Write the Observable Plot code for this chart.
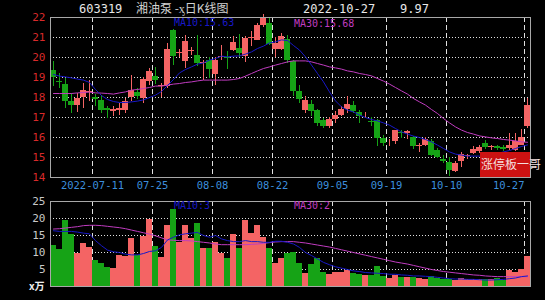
<!DOCTYPE html>
<html><head><meta charset="utf-8">
<script src="https://cdn.jsdelivr.net/npm/d3@7"></script>
<script src="https://cdn.jsdelivr.net/npm/@observablehq/plot@0.6"></script>
<style>
html,body{margin:0;padding:0;background:#000;}
#wrap{position:relative;width:545px;height:300px;background:#000;overflow:hidden;font-family:"DejaVu Sans Mono",monospace;}
.t{position:absolute;white-space:nowrap;line-height:1;}
#topPanel,#volPanel{position:absolute;left:0;}
#topPanel{top:0;} #volPanel{top:195px;}
</style></head><body>
<div id="wrap">
  <div id="topPanel"></div>
  <div id="volPanel"></div>
  <div class="t" style="left:79px;top:3px;font-size:12px;color:#e8e8e8;">603319</div>
  <div class="t" style="left:136px;top:2px;font-size:12px;color:#d0d0d0;font-family:'Noto Sans CJK SC';">湘油泵 -ᶍ日K线图</div>
  <div class="t" style="left:303px;top:3px;font-size:12px;color:#e8e8e8;">2022-10-27</div>
  <div class="t" style="left:400px;top:3px;font-size:12px;color:#e8e8e8;">9.97</div>
  <div class="t" style="left:174px;top:18px;font-size:10px;color:#1818c8;">MA10:15.63</div>
  <div class="t" style="left:294px;top:19px;font-size:10px;color:#c03cc0;">MA30:15.68</div>
  <div class="t" style="left:174px;top:201px;font-size:10px;color:#1818c8;">MA10:3</div>
  <div class="t" style="left:294px;top:201px;font-size:10px;color:#c03cc0;">MA30:2</div>
  <div class="t" style="left:29px;top:281px;font-size:10px;font-weight:bold;color:#f0f0f0;font-family:'Noto Sans CJK SC';">x万</div>
  <div style="position:absolute;left:480px;top:152px;width:50px;height:25px;background:#cc1212;"></div>
  <div class="t" style="left:481px;top:158px;font-size:12px;color:#f4dede;font-family:'Noto Sans CJK SC';">涨停板一哥</div>
</div>
<script>
const tickIdx = [7, 17, 27, 37, 47, 56, 66, 79];
const tickLabels = ["2022-07-11", "07-25", "08-08", "08-22", "09-05", "09-19", "10-10", "10-27"];
const priceTicks = [14, 15, 16, 17, 18, 19, 20, 21, 22];
const volTicks = [5, 10, 15, 20, 25];

const open = [19.33,18.8,18.67,17.78,17.62,18.0,18.28,17.98,17.85,17.45,
  17.3,17.35,17.35,18.0,18.25,17.95,18.8,19.05,18.55,18.57,
  21.37,20.2,19.8,20.3,20.1,19.72,19.85,19.15,20.0,20.0,
  20.35,20.45,20.07,20.98,20.87,21.6,21.7,20.4,20.4,20.88,
  19.78,18.28,17.33,17.67,17.33,16.83,16.53,16.9,17.12,17.4,
  17.62,17.25,17.13,16.8,16.87,15.95,15.68,15.78,16.27,16.2,
  16.0,15.55,15.62,15.78,15.37,14.92,14.73,14.28,14.78,15.05,
  15.2,15.28,15.7,15.52,15.55,15.5,15.45,15.37,15.62,16.53];
const close = [19.0,18.75,17.78,17.62,17.95,18.33,18.3,17.92,17.35,17.35,
  17.38,17.45,17.8,18.35,18.05,18.9,19.3,18.85,18.58,20.42,
  20.07,20.22,20.8,20.35,19.7,19.75,19.4,19.85,20.05,19.95,
  20.75,20.2,20.95,21.0,21.6,22.0,20.65,20.72,21.07,19.85,
  18.28,17.9,17.83,17.28,16.7,16.53,16.9,17.12,17.4,17.67,
  17.32,17.03,17.17,16.77,15.95,15.7,15.72,16.33,16.23,16.28,
  15.53,15.57,15.9,15.12,15.0,14.78,14.37,14.7,15.17,15.1,
  15.4,15.48,15.5,15.55,15.45,15.42,15.62,15.78,16.0,17.6];
const high = [19.78,19.2,18.95,18.2,18.2,18.7,18.87,18.15,18.1,17.55,
  17.55,17.7,17.95,19.1,18.45,19.0,19.45,19.5,18.7,20.7,
  21.4,20.4,21.1,20.5,21.1,19.85,20.0,20.0,20.6,20.3,
  21.05,21.15,21.07,21.3,21.7,22.15,22.0,21.0,21.2,21.1,
  19.87,18.62,18.03,17.87,17.4,16.95,17.0,17.28,17.53,18.03,
  17.78,17.37,17.23,17.0,16.9,16.12,15.9,16.37,16.33,16.37,
  16.07,15.7,16.0,15.9,15.45,15.12,15.0,14.78,15.23,15.17,
  15.53,15.62,15.83,15.62,15.62,15.58,16.22,16.22,16.38,17.97];
const low = [18.53,18.45,17.45,17.2,17.23,17.45,17.78,17.55,17.2,16.95,
  17.05,17.1,17.2,17.8,17.9,17.7,18.6,18.67,18.0,18.45,
  19.62,20.0,19.45,20.1,19.55,18.85,18.95,18.6,19.85,19.4,
  20.3,20.0,19.73,20.53,20.85,21.5,20.6,20.0,20.35,19.7,
  18.03,17.7,17.2,17.03,16.53,16.45,16.45,16.7,17.03,17.2,
  17.2,16.7,17.0,16.53,15.57,15.57,15.57,15.67,15.95,15.9,
  15.4,15.23,15.53,15.03,14.95,14.7,14.03,14.23,14.5,14.9,
  15.17,15.2,15.4,15.37,15.35,15.3,15.35,15.28,15.6,16.45];
const ma10 = [19.15,19.07,19.03,18.98,18.92,18.87,18.75,18.4,18.1,17.9,
  17.8,17.75,17.75,17.78,17.82,17.88,18.0,18.12,18.3,18.6,
  18.9,19.23,19.4,19.53,19.67,19.73,19.87,19.95,20.07,20.03,
  20.07,20.08,20.17,20.28,20.45,20.57,20.73,20.78,20.88,20.85,
  20.6,20.37,20.03,19.62,19.2,18.78,18.28,17.83,17.53,17.37,
  17.28,17.12,17.0,16.9,16.83,16.73,16.62,16.45,16.28,16.17,
  16.07,16.0,15.9,15.78,15.62,15.45,15.28,15.17,15.12,15.07,
  15.07,15.07,15.1,15.15,15.2,15.28,15.35,15.45,15.55,15.63];
const ma30 = [18.2,18.2,18.2,18.2,18.23,18.25,18.27,18.23,18.22,18.2,
  18.17,18.23,18.28,18.37,18.4,18.45,18.5,18.57,18.57,18.62,
  18.67,18.7,18.75,18.78,18.83,18.87,18.87,18.87,18.87,18.87,
  18.9,18.95,19.07,19.2,19.33,19.45,19.53,19.62,19.7,19.78,
  19.83,19.83,19.83,19.78,19.7,19.62,19.53,19.48,19.42,19.33,
  19.28,19.2,19.15,19.08,18.95,18.82,18.67,18.5,18.33,18.17,
  17.95,17.78,17.62,17.4,17.2,16.95,16.73,16.53,16.37,16.25,
  16.17,16.08,16.03,15.98,15.95,15.9,15.87,15.83,15.78,15.76];
const volume = [12.0,10.8,19.4,15.3,9.7,12.7,11.5,7.6,6.8,5.6,
  5.2,9.1,8.8,14.1,9.0,14.7,19.7,11.7,8.6,17.9,
  22.6,13.0,17.9,14.0,18.5,11.1,11.1,12.8,9.7,8.2,
  15.2,11.1,19.4,15.6,18.0,14.4,11.1,6.8,8.2,9.7,
  10.0,6.8,3.8,6.4,8.3,4.1,3.4,4.1,4.1,4.6,
  3.8,3.4,3.1,3.1,5.8,2.9,2.5,3.1,2.7,2.7,
  2.7,2.5,2.2,2.9,2.4,2.1,2.1,1.9,2.5,2.1,
  2.1,2.1,2.1,2.1,2.5,1.9,4.6,4.1,4.9,8.9];
const vma10 = [16.4,16.2,16.2,16.2,16.0,15.7,15.5,13.5,12.0,10.7,
  10.2,10.0,9.5,9.3,9.3,9.7,10.3,10.5,11.5,13.7,
  14.5,15.2,15.5,15.7,15.9,15.0,14.5,15.0,14.0,13.5,
  13.2,13.2,13.5,13.2,13.2,13.0,13.0,13.3,13.3,13.0,
  12.5,11.5,10.0,9.1,8.1,7.1,6.4,5.8,5.4,5.0,
  4.6,4.4,4.1,4.0,3.9,3.8,3.6,3.6,3.4,3.3,
  3.1,3.1,3.0,2.9,2.7,2.5,2.3,2.2,2.2,2.1,
  2.1,2.0,1.9,1.9,2.0,2.1,2.3,2.5,2.9,3.1];
const vma30 = [16.9,17.0,17.2,17.4,17.6,17.9,18.0,18.0,17.9,17.7,
  17.5,17.3,17.0,16.6,16.2,15.8,15.4,14.9,14.3,13.7,
  13.6,13.5,13.5,13.4,13.2,13.0,12.8,12.5,12.3,12.3,
  12.3,12.3,12.3,12.4,12.5,12.7,12.9,13.1,13.2,13.2,
  13.2,13.0,12.8,12.5,12.2,11.9,11.6,11.2,10.8,10.4,
  10.0,9.6,9.2,8.8,8.4,8.0,7.6,7.2,6.9,6.6,
  6.2,5.8,5.4,5.0,4.7,4.4,4.2,4.0,3.8,3.6,
  3.4,3.3,3.1,3.0,2.9,2.9,2.9,2.9,2.9,2.9];

const UP = "#f46464", DOWN = "#16a316", BLUE = "#1818c8", MAG = "#c03cc0";
const rows = d3.range(open.length).map(i => ({
  i, o: open[i], c: close[i], h: high[i], l: low[i], v: volume[i],
  m10: ma10[i], m30: ma30[i], vm10: vma10[i], vm30: vma30[i],
  col: close[i] >= open[i] ? UP : DOWN
}));
const labelOf = new Map(tickIdx.map((t, k) => [t - 0.5, tickLabels[k]]));
const tickPos = tickIdx.map(t => t - 0.5);
const lastTick = tickPos[tickPos.length - 1];
const doji = d => Math.abs(d.c - d.o) < 0.04;

const common = {
  width: 545, marginLeft: 50, marginRight: 15,
  x: {domain: [-0.5, 79.5], axis: null},
  color: {type: "identity"},
  style: {background: "#000", fontFamily: "DejaVu Sans Mono, monospace", fontSize: "10px"}
};

const priceChart = Plot.plot({
  ...common,
  height: 195, marginTop: 17, marginBottom: 18,
  y: {domain: [14, 22], axis: null},
  marks: [
    Plot.ruleY([15, 16, 17, 18, 19, 20, 21], {stroke: "#e0e0e0", strokeDasharray: "1,2", shapeRendering: "crispEdges"}),
    Plot.ruleX(tickPos, {stroke: "#e0e0e0", strokeDasharray: "5,3", shapeRendering: "crispEdges"}),
    Plot.ruleX(rows, {x: "i", y1: "l", y2: "h", stroke: "col", shapeRendering: "crispEdges"}),
    Plot.rect(rows, {
      x1: d => d.i - 0.42, x2: d => d.i + 0.42,
      y1: d => doji(d) ? (d.o + d.c) / 2 - 0.025 : d.o,
      y2: d => doji(d) ? (d.o + d.c) / 2 + 0.025 : d.c,
      fill: "col", shapeRendering: "crispEdges"
    }),
    Plot.line(rows, {x: "i", y: "m30", stroke: MAG, strokeWidth: 1}),
    Plot.line(rows, {x: "i", y: "m10", stroke: BLUE, strokeWidth: 1}),
    Plot.frame({stroke: "#a8a8a8", shapeRendering: "crispEdges"}),
    Plot.axisY({ticks: priceTicks, tickSize: 0, tickPadding: 5, color: "#d82a2a", fontSize: 11, label: null}),
    Plot.axisX({ticks: tickPos.filter(t => t !== lastTick), tickFormat: d => labelOf.get(d), tickSize: 0, tickPadding: 4, color: "#3c8edc", fontSize: 10.5, label: null}),
    Plot.axisX({ticks: [lastTick], tickFormat: d => labelOf.get(d), tickSize: 0, tickPadding: 4, textAnchor: "end", color: "#3c8edc", fontSize: 10.5, label: null})
  ]
});
document.getElementById("topPanel").appendChild(priceChart);

const volChart = Plot.plot({
  ...common,
  height: 105, marginTop: 6, marginBottom: 14,
  y: {domain: [0, 25], axis: null},
  marks: [
    Plot.ruleY([5, 10, 15, 20], {stroke: "#e0e0e0", strokeDasharray: "1,2", shapeRendering: "crispEdges"}),
    Plot.ruleX(tickPos, {stroke: "#e0e0e0", strokeDasharray: "5,3", shapeRendering: "crispEdges"}),
    Plot.rect(rows, {x1: d => d.i - 0.42, x2: d => d.i + 0.42, y1: 0, y2: "v", fill: "col", shapeRendering: "crispEdges"}),
    Plot.line(rows, {x: "i", y: "vm30", stroke: MAG, strokeWidth: 1}),
    Plot.line(rows, {x: "i", y: "vm10", stroke: BLUE, strokeWidth: 1}),
    Plot.frame({stroke: "#a8a8a8", shapeRendering: "crispEdges"}),
    Plot.axisY({ticks: volTicks, tickSize: 0, tickPadding: 5, color: "#c8c8c8", fontSize: 11, label: null})
  ]
});
document.getElementById("volPanel").appendChild(volChart);
</script>
</body></html>
